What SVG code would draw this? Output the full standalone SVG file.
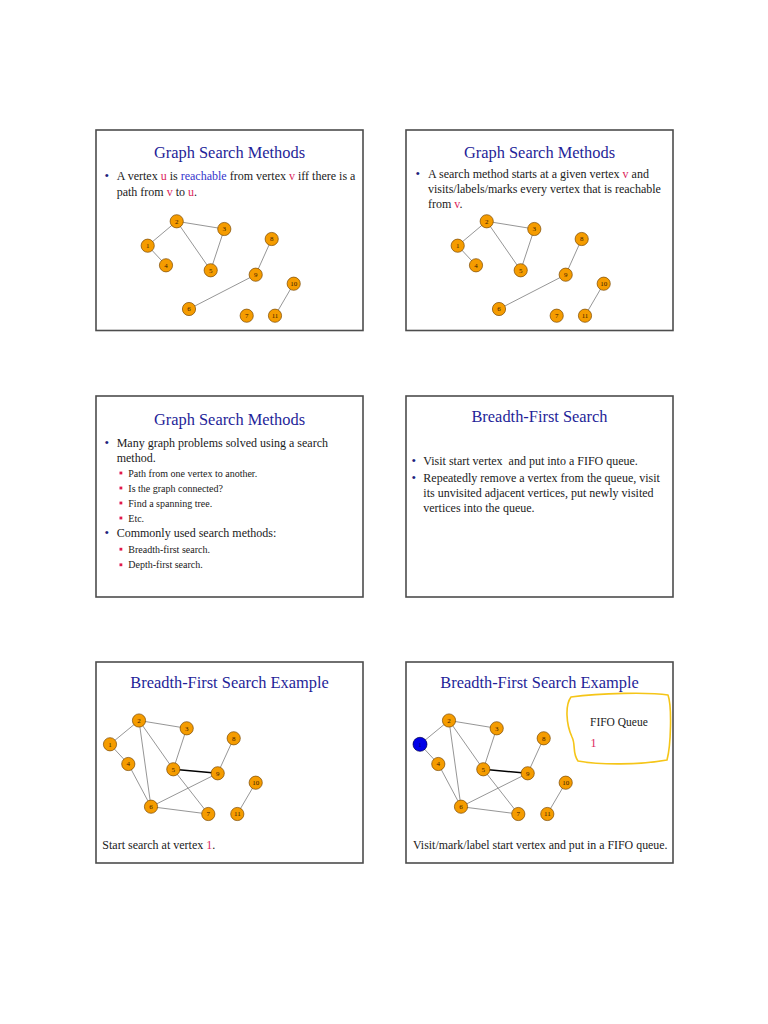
<svg xmlns="http://www.w3.org/2000/svg" width="768" height="1024" viewBox="0 0 768 1024">
<style>
.bg{fill:#fff}
.slide{fill:#fff;stroke:#4d4d4d;stroke-width:1.6}
.title{font-family:"Liberation Serif",serif;font-size:16.4px;fill:#1f1f99;text-anchor:middle}
.txt{font-family:"Liberation Serif",serif;font-size:12px;fill:#1a1a1a}
.sub{font-family:"Liberation Serif",serif;font-size:10px;fill:#1a1a1a}
.dot{fill:#1f1f80;font-size:13px}
.sq{fill:#e0184c}
.red{fill:#dc1f5c}
.blue{fill:#3535cc}
.edge{stroke:#8a8a8a;stroke-width:0.9;fill:none}
.bold{stroke:#000;stroke-width:1.5;fill:none}
.node circle{fill:#f59c00;stroke:#7a4800;stroke-width:0.7}
.node text{font-family:"Liberation Serif",serif;font-size:7px;fill:#3a2000;text-anchor:middle}
.visited circle{fill:#0000e8;stroke:#00004a;stroke-width:0.7}
.visited text{fill:#00006a}
.queue{fill:none;stroke:#f5c518;stroke-width:1.6;stroke-linejoin:round}
</style>
<rect class="bg" x="0" y="0" width="768" height="1024"/>

<!-- Slide 1 -->
<g id="slide1">
<rect class="slide" x="96" y="130" width="267" height="200.5"/>
<text class="title" x="229.5" y="158">Graph Search Methods</text>
<text class="txt dot" x="104.5" y="180">•</text>
<text class="txt" x="116.7" y="180">A vertex <tspan class="red">u</tspan> is <tspan class="blue">reachable</tspan> from vertex <tspan class="red">v</tspan> iff there is a</text>
<text class="txt" x="116.7" y="196">path from <tspan class="red">v</tspan> to <tspan class="red">u</tspan>.</text>
<g id="s1-connectors">
<line class="edge" x1="176.7" y1="221.3" x2="147.7" y2="245.7"/>
<line class="edge" x1="176.7" y1="221.3" x2="224.3" y2="229"/>
<line class="edge" x1="176.7" y1="221.3" x2="210.7" y2="270.3"/>
<line class="edge" x1="224.3" y1="229" x2="210.7" y2="270.3"/>
<line class="edge" x1="147.7" y1="245.7" x2="166" y2="265.3"/>
<line class="edge" x1="271.7" y1="239" x2="255.7" y2="274.7"/>
<line class="edge" x1="255.7" y1="274.7" x2="189" y2="309"/>
<line class="edge" x1="293.7" y1="283.7" x2="275" y2="315.7"/>
</g>
<g id="s1-n1" class="node"><circle cx="147.7" cy="245.7" r="6.6"/><text x="147.7" y="248.1">1</text></g>
<g id="s1-n2" class="node"><circle cx="176.7" cy="221.3" r="6.6"/><text x="176.7" y="223.7">2</text></g>
<g id="s1-n3" class="node"><circle cx="224.3" cy="229" r="6.6"/><text x="224.3" y="231.4">3</text></g>
<g id="s1-n4" class="node"><circle cx="166" cy="265.3" r="6.6"/><text x="166" y="267.7">4</text></g>
<g id="s1-n5" class="node"><circle cx="210.7" cy="270.3" r="6.6"/><text x="210.7" y="272.7">5</text></g>
<g id="s1-n6" class="node"><circle cx="189" cy="309" r="6.6"/><text x="189" y="311.4">6</text></g>
<g id="s1-n7" class="node"><circle cx="246.7" cy="315.7" r="6.6"/><text x="246.7" y="318.1">7</text></g>
<g id="s1-n8" class="node"><circle cx="271.7" cy="239" r="6.6"/><text x="271.7" y="241.4">8</text></g>
<g id="s1-n9" class="node"><circle cx="255.7" cy="274.7" r="6.6"/><text x="255.7" y="277.1">9</text></g>
<g id="s1-n10" class="node"><circle cx="293.7" cy="283.7" r="6.6"/><text x="293.7" y="286.1">10</text></g>
<g id="s1-n11" class="node"><circle cx="275" cy="315.7" r="6.6"/><text x="275" y="318.1">11</text></g>
</g>

<!-- Slide 2 -->
<g id="slide2">
<rect class="slide" x="406" y="130" width="267" height="200.5"/>
<text class="title" x="539.5" y="158">Graph Search Methods</text>
<text class="txt dot" x="415.5" y="178">•</text>
<text class="txt" x="428" y="178">A search method starts at a given vertex <tspan class="red">v</tspan> and</text>
<text class="txt" x="428" y="193">visits/labels/marks every vertex that is reachable</text>
<text class="txt" x="428" y="207.5">from <tspan class="red">v</tspan>.</text>
<g id="s2-connectors">
<line class="edge" x1="486.7" y1="221.3" x2="457.7" y2="245.7"/>
<line class="edge" x1="486.7" y1="221.3" x2="534.3" y2="229"/>
<line class="edge" x1="486.7" y1="221.3" x2="520.7" y2="270.3"/>
<line class="edge" x1="534.3" y1="229" x2="520.7" y2="270.3"/>
<line class="edge" x1="457.7" y1="245.7" x2="476" y2="265.3"/>
<line class="edge" x1="581.7" y1="239" x2="565.7" y2="274.7"/>
<line class="edge" x1="565.7" y1="274.7" x2="499" y2="309"/>
<line class="edge" x1="603.7" y1="283.7" x2="585" y2="315.7"/>
</g>
<g id="s2-n1" class="node"><circle cx="457.7" cy="245.7" r="6.6"/><text x="457.7" y="248.1">1</text></g>
<g id="s2-n2" class="node"><circle cx="486.7" cy="221.3" r="6.6"/><text x="486.7" y="223.7">2</text></g>
<g id="s2-n3" class="node"><circle cx="534.3" cy="229" r="6.6"/><text x="534.3" y="231.4">3</text></g>
<g id="s2-n4" class="node"><circle cx="476" cy="265.3" r="6.6"/><text x="476" y="267.7">4</text></g>
<g id="s2-n5" class="node"><circle cx="520.7" cy="270.3" r="6.6"/><text x="520.7" y="272.7">5</text></g>
<g id="s2-n6" class="node"><circle cx="499" cy="309" r="6.6"/><text x="499" y="311.4">6</text></g>
<g id="s2-n7" class="node"><circle cx="556.7" cy="315.7" r="6.6"/><text x="556.7" y="318.1">7</text></g>
<g id="s2-n8" class="node"><circle cx="581.7" cy="239" r="6.6"/><text x="581.7" y="241.4">8</text></g>
<g id="s2-n9" class="node"><circle cx="565.7" cy="274.7" r="6.6"/><text x="565.7" y="277.1">9</text></g>
<g id="s2-n10" class="node"><circle cx="603.7" cy="283.7" r="6.6"/><text x="603.7" y="286.1">10</text></g>
<g id="s2-n11" class="node"><circle cx="585" cy="315.7" r="6.6"/><text x="585" y="318.1">11</text></g>
</g>

<!-- Slide 3 -->
<g id="slide3">
<rect class="slide" x="96" y="396" width="267" height="201"/>
<text class="title" x="229.5" y="425">Graph Search Methods</text>
<text class="txt dot" x="104.5" y="447">•</text>
<text class="txt" x="116.7" y="447">Many graph problems solved using a search</text>
<text class="txt" x="116.7" y="461.5">method.</text>
<rect class="sq" x="119.5" y="471.6" width="2.8" height="2.8"/>
<text class="sub" x="128.3" y="476.5">Path from one vertex to another.</text>
<rect class="sq" x="119.5" y="486.6" width="2.8" height="2.8"/>
<text class="sub" x="128.3" y="491.5">Is the graph connected?</text>
<rect class="sq" x="119.5" y="501.6" width="2.8" height="2.8"/>
<text class="sub" x="128.3" y="506.5">Find a spanning tree.</text>
<rect class="sq" x="119.5" y="516.6" width="2.8" height="2.8"/>
<text class="sub" x="128.3" y="521.5">Etc.</text>
<text class="txt dot" x="104.5" y="537">•</text>
<text class="txt" x="116.7" y="537">Commonly used search methods:</text>
<rect class="sq" x="119.5" y="547.8" width="2.8" height="2.8"/>
<text class="sub" x="128.3" y="552.7">Breadth-first search.</text>
<rect class="sq" x="119.5" y="563.4" width="2.8" height="2.8"/>
<text class="sub" x="128.3" y="568.3">Depth-first search.</text>
</g>

<!-- Slide 4 -->
<g id="slide4">
<rect class="slide" x="406" y="396" width="267" height="201"/>
<text class="title" x="539.5" y="422.3">Breadth-First Search</text>
<text class="txt dot" x="411.5" y="465">•</text>
<text class="txt" x="423.3" y="465" xml:space="preserve">Visit start vertex  and put into a FIFO queue.</text>
<text class="txt dot" x="411.5" y="482.3">•</text>
<text class="txt" x="423.3" y="482.3">Repeatedly remove a vertex from the queue, visit</text>
<text class="txt" x="423.3" y="497">its unvisited adjacent vertices, put newly visited</text>
<text class="txt" x="423.3" y="511.7">vertices into the queue.</text>
</g>

<!-- Slide 5 -->
<g id="slide5">
<rect class="slide" x="96" y="662" width="267" height="201"/>
<text class="title" x="229.5" y="688.3">Breadth-First Search Example</text>
<g id="s5-connectors">
<line class="edge" x1="139" y1="720.5" x2="110" y2="744.3"/>
<line class="edge" x1="139" y1="720.5" x2="186.7" y2="728.3"/>
<line class="edge" x1="139" y1="720.5" x2="173.3" y2="769.3"/>
<line class="edge" x1="139" y1="720.5" x2="151" y2="806.7"/>
<line class="edge" x1="186.7" y1="728.3" x2="173.3" y2="769.3"/>
<line class="edge" x1="110" y1="744.3" x2="128.3" y2="764"/>
<line class="edge" x1="128.3" y1="764" x2="151" y2="806.7"/>
<line class="edge" x1="173.3" y1="769.3" x2="208.3" y2="814"/>
<line class="edge" x1="151" y1="806.7" x2="217.7" y2="773.3"/>
<line class="edge" x1="151" y1="806.7" x2="208.3" y2="814"/>
<line class="edge" x1="233.7" y1="738.3" x2="217.7" y2="773.3"/>
<line class="edge" x1="255.7" y1="782.7" x2="237.3" y2="814"/>
<line class="bold" x1="173.3" y1="769.3" x2="217.7" y2="773.3"/>
</g>
<g id="s5-n1" class="node"><circle cx="110" cy="744.3" r="6.6"/><text x="110" y="746.7">1</text></g>
<g id="s5-n2" class="node"><circle cx="139" cy="720.5" r="6.6"/><text x="139" y="722.9">2</text></g>
<g id="s5-n3" class="node"><circle cx="186.7" cy="728.3" r="6.6"/><text x="186.7" y="730.7">3</text></g>
<g id="s5-n4" class="node"><circle cx="128.3" cy="764" r="6.6"/><text x="128.3" y="766.4">4</text></g>
<g id="s5-n5" class="node"><circle cx="173.3" cy="769.3" r="6.6"/><text x="173.3" y="771.7">5</text></g>
<g id="s5-n6" class="node"><circle cx="151" cy="806.7" r="6.6"/><text x="151" y="809.1">6</text></g>
<g id="s5-n7" class="node"><circle cx="208.3" cy="814" r="6.6"/><text x="208.3" y="816.4">7</text></g>
<g id="s5-n8" class="node"><circle cx="233.7" cy="738.3" r="6.6"/><text x="233.7" y="740.7">8</text></g>
<g id="s5-n9" class="node"><circle cx="217.7" cy="773.3" r="6.6"/><text x="217.7" y="775.7">9</text></g>
<g id="s5-n10" class="node"><circle cx="255.7" cy="782.7" r="6.6"/><text x="255.7" y="785.1">10</text></g>
<g id="s5-n11" class="node"><circle cx="237.3" cy="814" r="6.6"/><text x="237.3" y="816.4">11</text></g>
<text class="txt" x="102.3" y="849.3">Start search at vertex <tspan class="red">1</tspan>.</text>
</g>

<!-- Slide 6 -->
<g id="slide6">
<rect class="slide" x="406" y="662" width="267" height="201"/>
<text class="title" x="539.5" y="688.3">Breadth-First Search Example</text>
<g id="s6-connectors">
<line class="edge" x1="449" y1="720.5" x2="420" y2="744.3"/>
<line class="edge" x1="449" y1="720.5" x2="496.7" y2="728.3"/>
<line class="edge" x1="449" y1="720.5" x2="483.3" y2="769.3"/>
<line class="edge" x1="449" y1="720.5" x2="461" y2="806.7"/>
<line class="edge" x1="496.7" y1="728.3" x2="483.3" y2="769.3"/>
<line class="edge" x1="420" y1="744.3" x2="438.3" y2="764"/>
<line class="edge" x1="438.3" y1="764" x2="461" y2="806.7"/>
<line class="edge" x1="483.3" y1="769.3" x2="518.3" y2="814"/>
<line class="edge" x1="461" y1="806.7" x2="527.7" y2="773.3"/>
<line class="edge" x1="461" y1="806.7" x2="518.3" y2="814"/>
<line class="edge" x1="543.7" y1="738.3" x2="527.7" y2="773.3"/>
<line class="edge" x1="565.7" y1="782.7" x2="547.3" y2="814"/>
<line class="bold" x1="483.3" y1="769.3" x2="527.7" y2="773.3"/>
</g>
<g id="s6-n1" class="node visited"><circle cx="420" cy="744.3" r="7"/><text x="420" y="746.7">1</text></g>
<g id="s6-n2" class="node"><circle cx="449" cy="720.5" r="6.6"/><text x="449" y="722.9">2</text></g>
<g id="s6-n3" class="node"><circle cx="496.7" cy="728.3" r="6.6"/><text x="496.7" y="730.7">3</text></g>
<g id="s6-n4" class="node"><circle cx="438.3" cy="764" r="6.6"/><text x="438.3" y="766.4">4</text></g>
<g id="s6-n5" class="node"><circle cx="483.3" cy="769.3" r="6.6"/><text x="483.3" y="771.7">5</text></g>
<g id="s6-n6" class="node"><circle cx="461" cy="806.7" r="6.6"/><text x="461" y="809.1">6</text></g>
<g id="s6-n7" class="node"><circle cx="518.3" cy="814" r="6.6"/><text x="518.3" y="816.4">7</text></g>
<g id="s6-n8" class="node"><circle cx="543.7" cy="738.3" r="6.6"/><text x="543.7" y="740.7">8</text></g>
<g id="s6-n9" class="node"><circle cx="527.7" cy="773.3" r="6.6"/><text x="527.7" y="775.7">9</text></g>
<g id="s6-n10" class="node"><circle cx="565.7" cy="782.7" r="6.6"/><text x="565.7" y="785.1">10</text></g>
<g id="s6-n11" class="node"><circle cx="547.3" cy="814" r="6.6"/><text x="547.3" y="816.4">11</text></g>
<g id="s6-queue">
<path class="queue" d="M571,697 C600,693 650,692 668,695 C672,706 671,745 667,760 C640,765 600,765 578,761 C572,753 576,745 572,737 C566,724 565,705 571,697 Z"/>
<text class="txt" x="590" y="726" style="font-size:11.5px">FIFO Queue</text>
<text class="txt red" x="590.5" y="746.7">1</text>
</g>
<text class="txt" x="413" y="849.3" style="font-size:11.9px">Visit/mark/label start vertex and put in a FIFO queue.</text>
</g>
</svg>
